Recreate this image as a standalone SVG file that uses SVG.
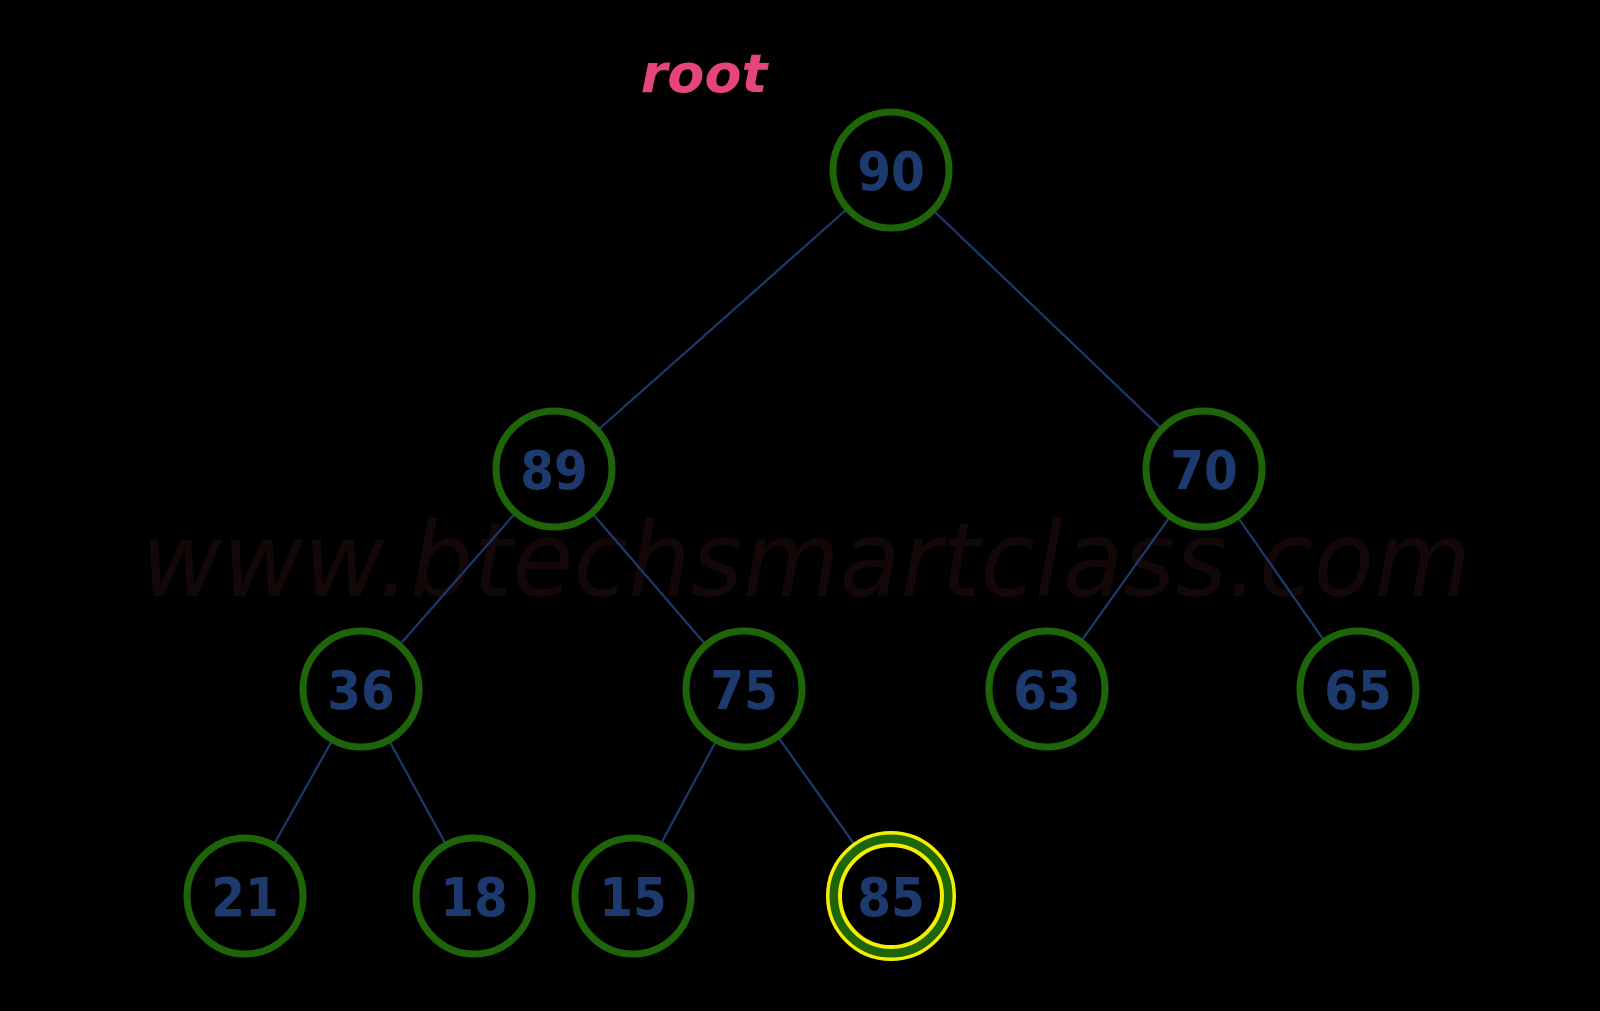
<svg xmlns="http://www.w3.org/2000/svg" width="1600" height="1011" viewBox="0 0 1600 1011">
<style>
.n{fill:#000;stroke:#1e6408;stroke-width:7}
.t{font-family:"DejaVu Sans Condensed","DejaVu Sans",sans-serif;font-weight:bold;font-size:54px;fill:#1d3a6e;text-anchor:middle}
.e{stroke:#1d3a6e;stroke-width:2.2}
</style>
<rect width="1600" height="1011" fill="#000"/>
<text x="806" y="596" font-family="DejaVu Sans" font-style="italic" font-size="104" fill="#130707" text-anchor="middle" textLength="1330" lengthAdjust="spacingAndGlyphs">www.btechsmartclass.com</text>
<text x="704" y="92" font-family="DejaVu Sans" font-style="italic" font-weight="bold" font-size="54" fill="#e4457a" text-anchor="middle">root</text>
<g id="connectors">
<line class="e" x1="891" y1="170" x2="554" y2="469"/>
<line class="e" x1="891" y1="170" x2="1204" y2="469"/>
<line class="e" x1="554" y1="469" x2="361" y2="689"/>
<line class="e" x1="554" y1="469" x2="744" y2="689"/>
<line class="e" x1="1204" y1="469" x2="1047" y2="689"/>
<line class="e" x1="1204" y1="469" x2="1358" y2="689"/>
<line class="e" x1="361" y1="689" x2="245" y2="896"/>
<line class="e" x1="361" y1="689" x2="474" y2="896"/>
<line class="e" x1="744" y1="689" x2="633" y2="896"/>
<line class="e" x1="744" y1="689" x2="891" y2="896"/>
</g>
<g id="n90"><circle class="n" cx="891" cy="170" r="58"/><text class="t" x="891" y="190">90</text></g>
<g id="n89"><circle class="n" cx="554" cy="469" r="58"/><text class="t" x="554" y="489">89</text></g>
<g id="n70"><circle class="n" cx="1204" cy="469" r="58"/><text class="t" x="1204" y="489">70</text></g>
<g id="n36"><circle class="n" cx="361" cy="689" r="58"/><text class="t" x="361" y="709">36</text></g>
<g id="n75"><circle class="n" cx="744" cy="689" r="58"/><text class="t" x="744" y="709">75</text></g>
<g id="n63"><circle class="n" cx="1047" cy="689" r="58"/><text class="t" x="1047" y="709">63</text></g>
<g id="n65"><circle class="n" cx="1358" cy="689" r="58"/><text class="t" x="1358" y="709">65</text></g>
<g id="n21"><circle class="n" cx="245" cy="896" r="58"/><text class="t" x="245" y="916">21</text></g>
<g id="n18"><circle class="n" cx="474" cy="896" r="58"/><text class="t" x="474" y="916">18</text></g>
<g id="n15"><circle class="n" cx="633" cy="896" r="58"/><text class="t" x="633" y="916">15</text></g>
<g id="n85"><circle cx="891" cy="896" r="63" fill="#000" stroke="#f2f000" stroke-width="4"/><circle cx="891" cy="896" r="57" fill="#000" stroke="#1e6408" stroke-width="9"/><circle cx="891" cy="896" r="51" fill="none" stroke="#f2f000" stroke-width="4"/><text class="t" x="891" y="916">85</text></g>
</svg>
